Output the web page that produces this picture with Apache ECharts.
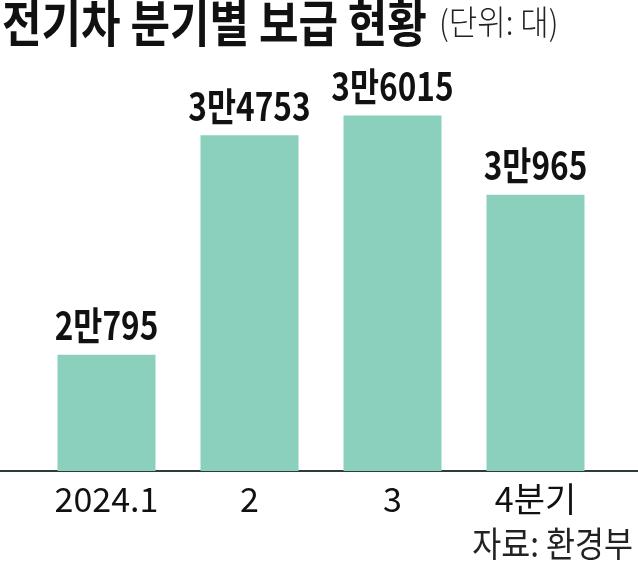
<!DOCTYPE html>
<html>
<head>
<meta charset="utf-8">
<script src="https://cdn.jsdelivr.net/npm/echarts@6/dist/echarts.min.js"></script>
<style>
  html, body { margin: 0; padding: 0; background: #fff; }
  #chart { width: 638px; height: 567px; }
</style>
</head>
<body>
<div id="chart"></div>
<script>
var categories = ['2024.1', '2', '3', '4분기'];
var values = [20795, 34753, 36015, 30965];
var titleText = '전기차 분기별 보급 현황';
var unitText = '(단위: 대)';
var sourceText = '자료: 환경부';

var CJK = "'Noto Sans CJK KR', sans-serif";

function fmt(v) {
  var man = Math.floor(v / 10000);
  var rest = v % 10000;
  return man + '만' + rest;
}

var chart = echarts.init(document.getElementById('chart'));
chart.setOption({
  animation: false,
  backgroundColor: '#ffffff',
  grid: { left: 35, right: 31, top: 100, bottom: 96, containLabel: false },
  xAxis: {
    type: 'category',
    data: categories,
    axisLine: { show: false },
    axisTick: { show: false },
    axisLabel: {
      interval: 0,
      fontSize: 34,
      fontFamily: CJK,
      color: '#111',
      margin: 11
    }
  },
  yAxis: {
    type: 'value',
    min: 13400,
    max: 37000,
    show: false,
    splitLine: { show: false }
  },
  series: [{
    type: 'bar',
    data: values,
    barWidth: 98,
    itemStyle: { color: '#8bcfbd' }
  }, {
    type: 'custom',
    data: values.map(function (v, i) { return [i, v]; }),
    silent: true,
    renderItem: function (params, api) {
      var p = api.coord([api.value(0), api.value(1)]);
      return {
        type: 'text',
        x: p[0],
        y: p[1] - 10,
        scaleX: 0.81,
        style: {
          text: fmt(api.value(1)),
          font: "bold 39px " + CJK,
          fill: '#111',
          align: 'center',
          verticalAlign: 'bottom'
        }
      };
    }
  }],
  graphic: [
    {
      type: 'text', x: 2, y: -2, scaleX: 0.86,
      style: { text: titleText, font: "bold 50px " + CJK, fill: '#111', align: 'left', verticalAlign: 'top' }
    },
    {
      type: 'text', x: 439, y: 5, scaleX: 0.91,
      style: { text: unitText, font: "300 34px " + CJK, fill: '#222', align: 'left', verticalAlign: 'top' }
    },
    {
      type: 'text', x: 633, y: 526, scaleX: 0.9,
      style: { text: sourceText, font: "35px " + CJK, fill: '#222', align: 'right', verticalAlign: 'top' }
    },
    {
      type: 'line',
      shape: { x1: 0, y1: 471, x2: 638, y2: 471 },
      style: { stroke: '#2e3b3b', lineWidth: 2 }
    }
  ]
});
</script>
</body>
</html>
